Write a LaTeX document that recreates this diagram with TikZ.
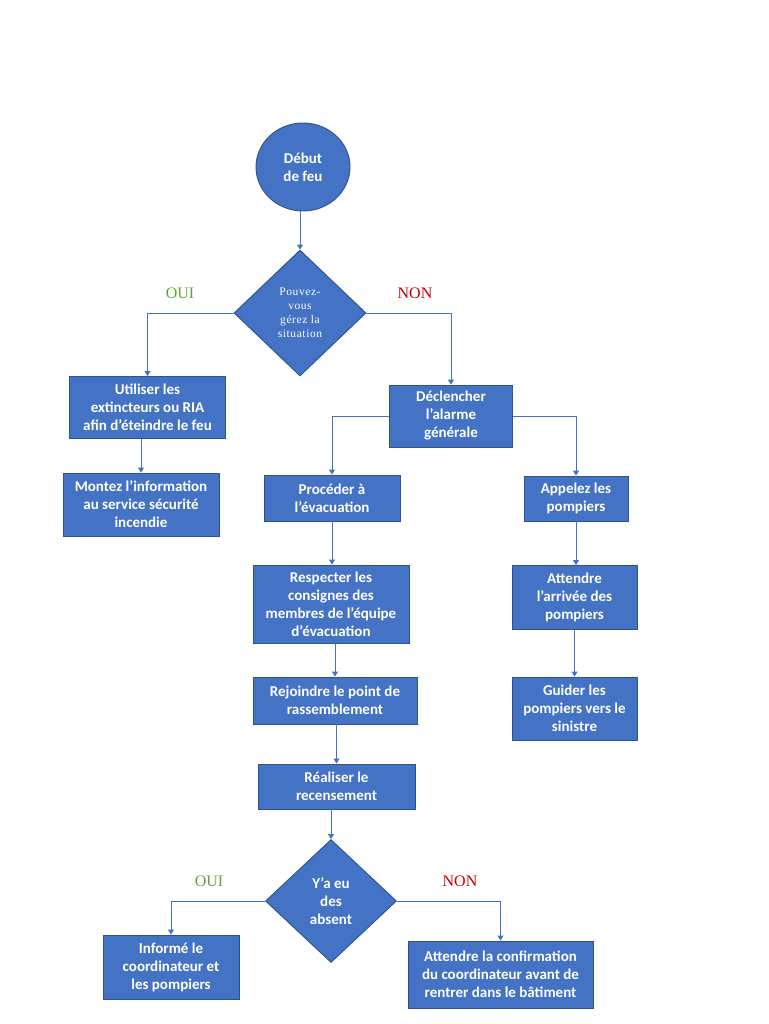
\documentclass[tikz,border=0pt]{standalone}
\usepackage{fontspec}
\setmainfont{Carlito}
\newfontfamily\serifd{Liberation Serif}
\newfontfamily\serifs{Liberation Serif}[LetterSpace=5]
\usetikzlibrary{shapes.geometric,arrows.meta}
\definecolor{boxfill}{HTML}{4472C4}
\definecolor{boxline}{HTML}{2F528F}
\definecolor{arrcol}{HTML}{4472C4}
\definecolor{ouigreen}{HTML}{62A33E}
\definecolor{nonred}{HTML}{C00000}
\begin{document}
\begin{tikzpicture}[x=1pt,y=-1pt,
  base/.style={fill=boxfill,draw=boxline,line width=0.9pt,text=white,
    font=\fontsize{15}{18}\selectfont\bfseries,align=center,inner sep=0pt},
  rbox/.style={base,rectangle},
  dia/.style={base,diamond},
  arr/.style={draw=arrcol,line width=0.9pt,-{Triangle[width=6pt,length=5pt]}},
  oui/.style={text=ouigreen,font=\serifd\fontsize{16}{18}\selectfont},
  non/.style={text=nonred,font=\serifd\fontsize{16}{18}\selectfont}]
\useasboundingbox[fill=white] (0,0) rectangle (768,1024);

\node[base,ellipse,minimum width=94pt,minimum height=88pt] (deb) at (303,167) {Début\\de feu};
\node[dia,minimum width=132pt,minimum height=126pt,font=\serifs\fontsize{11.5}{14}\selectfont] (d1) at (300,313) {Pouvez-\\vous\\gérez la\\situation};
\node[rbox,minimum width=156pt,minimum height=62pt] (util) at (147.5,407.5) {Utiliser les\\extincteurs ou RIA\\afin d’éteindre le feu};
\node[rbox,minimum width=156pt,minimum height=63pt] (mont) at (141,504.5) {Montez l’information\\au service sécurité\\incendie};
\node[rbox,minimum width=123pt,minimum height=62pt] (alarm) at (451,416) {Déclencher\\l’alarme\\générale};
\node[rbox,minimum width=136pt,minimum height=46pt] (proc) at (332,498) {Procéder à\\l’évacuation};
\node[rbox,minimum width=104pt,minimum height=45pt] (appel) at (576,498.5) {Appelez les\\pompiers};
\node[rbox,minimum width=156pt,minimum height=78pt] (resp) at (331,604) {Respecter les\\consignes des\\membres de l’équipe\\d’évacuation};
\node[rbox,minimum width=164pt,minimum height=47pt] (rej) at (335,700.5) {Rejoindre le point de\\rassemblement};
\node[rbox,minimum width=157pt,minimum height=45pt] (real) at (336.5,786.5) {Réaliser le\\recensement};
\node[rbox,minimum width=125pt,minimum height=64pt] (att) at (574.5,597.5) {Attendre\\l’arrivée des\\pompiers};
\node[rbox,minimum width=125pt,minimum height=63pt] (guid) at (574.5,708.5) {Guider les\\pompiers vers le\\sinistre};
\node[dia,minimum width=131pt,minimum height=123pt] (d2) at (331,901) {Y’a eu\\des\\absent};
\node[rbox,minimum width=136pt,minimum height=64pt] (inf) at (171,967) {Informé le\\coordinateur et\\les pompiers};
\node[rbox,minimum width=185pt,minimum height=67pt] (conf) at (500.5,974.5) {Attendre la confirmation\\du coordinateur avant de\\rentrer dans le bâtiment};

\node[oui] (oui1) at (180,293) {OUI};
\node[non] (non1) at (415,293) {NON};
\node[oui] (oui2) at (209,881) {OUI};
\node[non] (non2) at (460,881) {NON};

\draw[arr] (d1.north |- deb.south) -- (d1.north);
\draw[arr] (d1.west) -| (util.north);
\draw[arr] (d1.east) -| (alarm.north);
\draw[arr] (mont.north |- util.south) -- (mont.north);
\draw[arr] (alarm.west) -| (proc.north);
\draw[arr] (alarm.east) -| (appel.north);
\draw[arr] (proc.south) -- (proc.south |- resp.north);
\draw[arr] (rej.north |- resp.south) -- (rej.north);
\draw[arr] (real.north |- rej.south) -- (real.north);
\draw[arr] (d2.north |- real.south) -- (d2.north);
\draw[arr] (appel.south) -- (appel.south |- att.north);
\draw[arr] (att.south) -- (guid.north);
\draw[arr] (d2.west) -| (inf.north);
\draw[arr] (d2.east) -| (conf.north);
\end{tikzpicture}
\end{document}
